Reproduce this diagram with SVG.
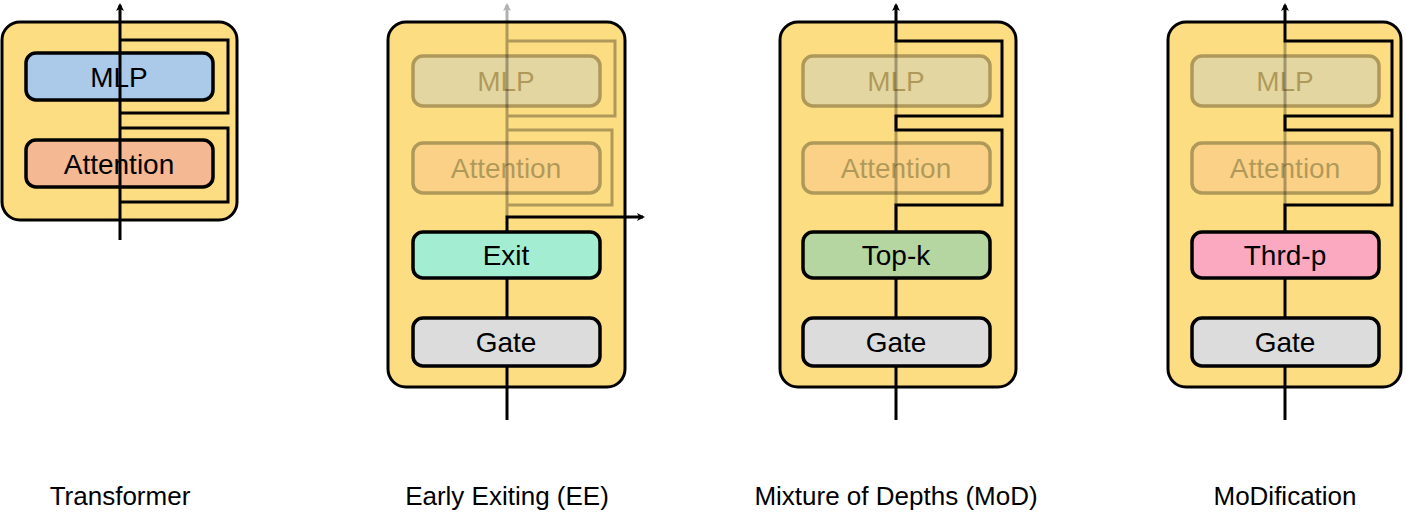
<svg xmlns="http://www.w3.org/2000/svg" width="1406" height="518" viewBox="0 0 1406 518">
<style>
.blk{fill:#fddd82;stroke:#000;stroke-width:3}
.mod{stroke:#000;stroke-width:3.5}
.t{font-family:"Liberation Sans",Arial,sans-serif;font-size:28px;text-anchor:middle;fill:#000}
.cap{font-family:"Liberation Sans",Arial,sans-serif;font-size:26px;text-anchor:middle;fill:#000}
.ln{fill:none;stroke:#000;stroke-width:3}
.fd{opacity:0.3}
</style>
<defs>
<marker id="ah" markerWidth="8" markerHeight="8" refX="6" refY="4" orient="auto" markerUnits="userSpaceOnUse" viewBox="0 0 8 8"><path d="M0,0 L8,4 L0,8 L2,4 Z" fill="#000"/></marker>
</defs>
<rect width="1406" height="518" fill="#fff"/>
<g id="transformer">
<rect class="blk" x="2" y="22" width="235" height="198" rx="18"/>
<rect class="mod" x="26" y="53" width="187" height="47" rx="10" fill="#abc9e9"/>
<text class="t" x="119" y="87">MLP</text>
<rect class="mod" x="26" y="140" width="187" height="47" rx="10" fill="#f4b893"/>
<text class="t" x="119" y="174">Attention</text>
</g>
<g id="ee">
<rect class="blk" x="388" y="22" width="237" height="365" rx="18"/>
<g class="fd">
<rect class="mod" x="413" y="56" width="187" height="50" rx="10" fill="#abc9e9"/>
<text class="t" x="506" y="91">MLP</text>
<rect class="mod" x="413" y="143" width="187" height="50" rx="10" fill="#f4b893"/>
<text class="t" x="506" y="178">Attention</text>
</g>
<rect class="mod" x="413" y="232" width="187" height="46" rx="10" fill="#a3eed2"/>
<text class="t" x="506" y="265">Exit</text>
<rect class="mod" x="413" y="318" width="187" height="48" rx="10" fill="#dcdcdc"/>
<text class="t" x="506" y="352">Gate</text>
</g>
<g id="mod">
<rect class="blk" x="780" y="22" width="236" height="365" rx="18"/>
<g class="fd">
<rect class="mod" x="803" y="56" width="187" height="50" rx="10" fill="#abc9e9"/>
<text class="t" x="896" y="91">MLP</text>
<rect class="mod" x="803" y="143" width="187" height="50" rx="10" fill="#f4b893"/>
<text class="t" x="896" y="178">Attention</text>
</g>
<rect class="mod" x="803" y="232" width="187" height="46" rx="10" fill="#b5d6a0"/>
<text class="t" x="896" y="265">Top-k</text>
<rect class="mod" x="803" y="318" width="187" height="48" rx="10" fill="#dcdcdc"/>
<text class="t" x="896" y="352">Gate</text>
</g>
<g id="modification">
<rect class="blk" x="1168" y="22" width="233" height="365" rx="18"/>
<g class="fd">
<rect class="mod" x="1192" y="56" width="187" height="50" rx="10" fill="#abc9e9"/>
<text class="t" x="1285" y="91">MLP</text>
<rect class="mod" x="1192" y="143" width="187" height="50" rx="10" fill="#f4b893"/>
<text class="t" x="1285" y="178">Attention</text>
</g>
<rect class="mod" x="1192" y="232" width="187" height="46" rx="10" fill="#fba9c1"/>
<text class="t" x="1285" y="265">Thrd-p</text>
<rect class="mod" x="1192" y="318" width="187" height="48" rx="10" fill="#dcdcdc"/>
<text class="t" x="1285" y="352">Gate</text>
</g>
<g id="connectors">
<path class="ln" d="M120,240 V5" marker-end="url(#ah)"/>
<path class="ln" d="M120,40 H228 V113 H120 M120,128 H228 V202 H120"/>
<g class="fd">
<path class="ln" d="M507,217 V5" marker-end="url(#ah)"/>
<path class="ln" d="M507,41 H615 V116 H507 M507,130 H612 V205 H507"/>
</g>
<path class="ln" d="M507,420 V366 M507,318 V278 M507,232 V217 H643" marker-end="url(#ah)"/>
<path class="ln fd" d="M896,232 V41"/>
<path class="ln" d="M896,420 V366 M896,318 V278 M896,232 V205 H1002 V130 H896 V116 H1002 V41 H896 V5" marker-end="url(#ah)"/>
<path class="ln fd" d="M1285,232 V41"/>
<path class="ln" d="M1285,420 V366 M1285,318 V278 M1285,232 V205 H1392 V130 H1285 V116 H1392 V41 H1285 V5" marker-end="url(#ah)"/>
</g>
<text class="cap" x="120" y="505">Transformer</text>
<text class="cap" x="507" y="505">Early Exiting (EE)</text>
<text class="cap" x="896" y="505">Mixture of Depths (MoD)</text>
<text class="cap" x="1285" y="505">MoDification</text>
</svg>
